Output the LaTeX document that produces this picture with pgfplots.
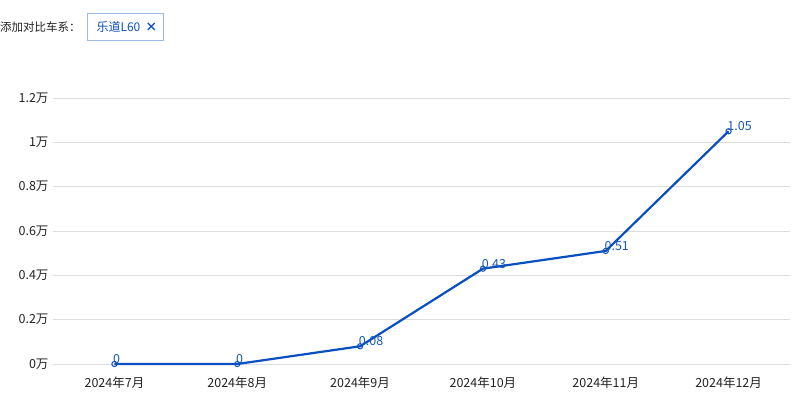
\documentclass[border=0pt]{standalone}
\usepackage{pgfplots}
\pgfplotsset{compat=1.18}
\usepackage{fontspec}
\setmainfont{Noto Sans CJK SC}
\definecolor{lineblue}{HTML}{0A4FBF}
\definecolor{labelblue}{HTML}{1558B0}
\definecolor{gridgray}{HTML}{DDDDDD}
\definecolor{textdark}{HTML}{222222}
\begin{document}
\begin{tikzpicture}[x=1pt,y=1pt]
% picture frame: axis box lower left sits at (0,0)
\useasboundingbox (-53,-41) rectangle (747,364);
% header
\node[anchor=west, inner sep=0pt, font=\fontsize{11.5}{13}\selectfont, text=textdark] at (-53,337) {添加对比车系：};
\draw[draw=lineblue!40, fill=white] (34,324) rectangle (110,351);
\node[anchor=west, font=\fontsize{12}{13}\selectfont, text=lineblue] at (40,337.5) {乐道L60\hspace{5pt}\textbf{×}};
\begin{axis}[
    scale only axis,
    width=737pt, height=266pt,
    xmin=-0.5, xmax=5.5,
    ymin=0, ymax=1.2,
    xtick=data,
    xticklabels={2024年7月,2024年8月,2024年9月,2024年10月,2024年11月,2024年12月},
    ytick={0,0.2,0.4,0.6,0.8,1,1.2},
    yticklabels={0万,0.2万,0.4万,0.6万,0.8万,1万,1.2万},
    axis line style={draw=none},
    major tick length=0pt,
    ymajorgrids=true,
    grid style={gridgray, line width=1pt},
    tick label style={font=\fontsize{12.5}{14}\selectfont, text=textdark},
    xticklabel style={yshift=-9pt},
    yticklabel style={xshift=-1pt},
    /pgf/number format/assume math mode=true,
    clip=false,
    point meta=explicit symbolic,
    nodes near coords,
    every node near coord/.append style={anchor=south west, xshift=-5pt, yshift=-3.5pt,
        font=\fontsize{12.5}{14}\selectfont, text=labelblue},
]
\addplot[color=lineblue, line width=2.2pt, mark=o, mark size=2.6pt,
    mark options={fill=white, line width=1pt}]
    coordinates {
    (0,0) [0]
    (1,0) [0]
    (2,0.08) [0.08]
    (3,0.43) [0.43]
    (4,0.51) [0.51]
    (5,1.05) [1.05]
    };
\end{axis}
\end{tikzpicture}
\end{document}
